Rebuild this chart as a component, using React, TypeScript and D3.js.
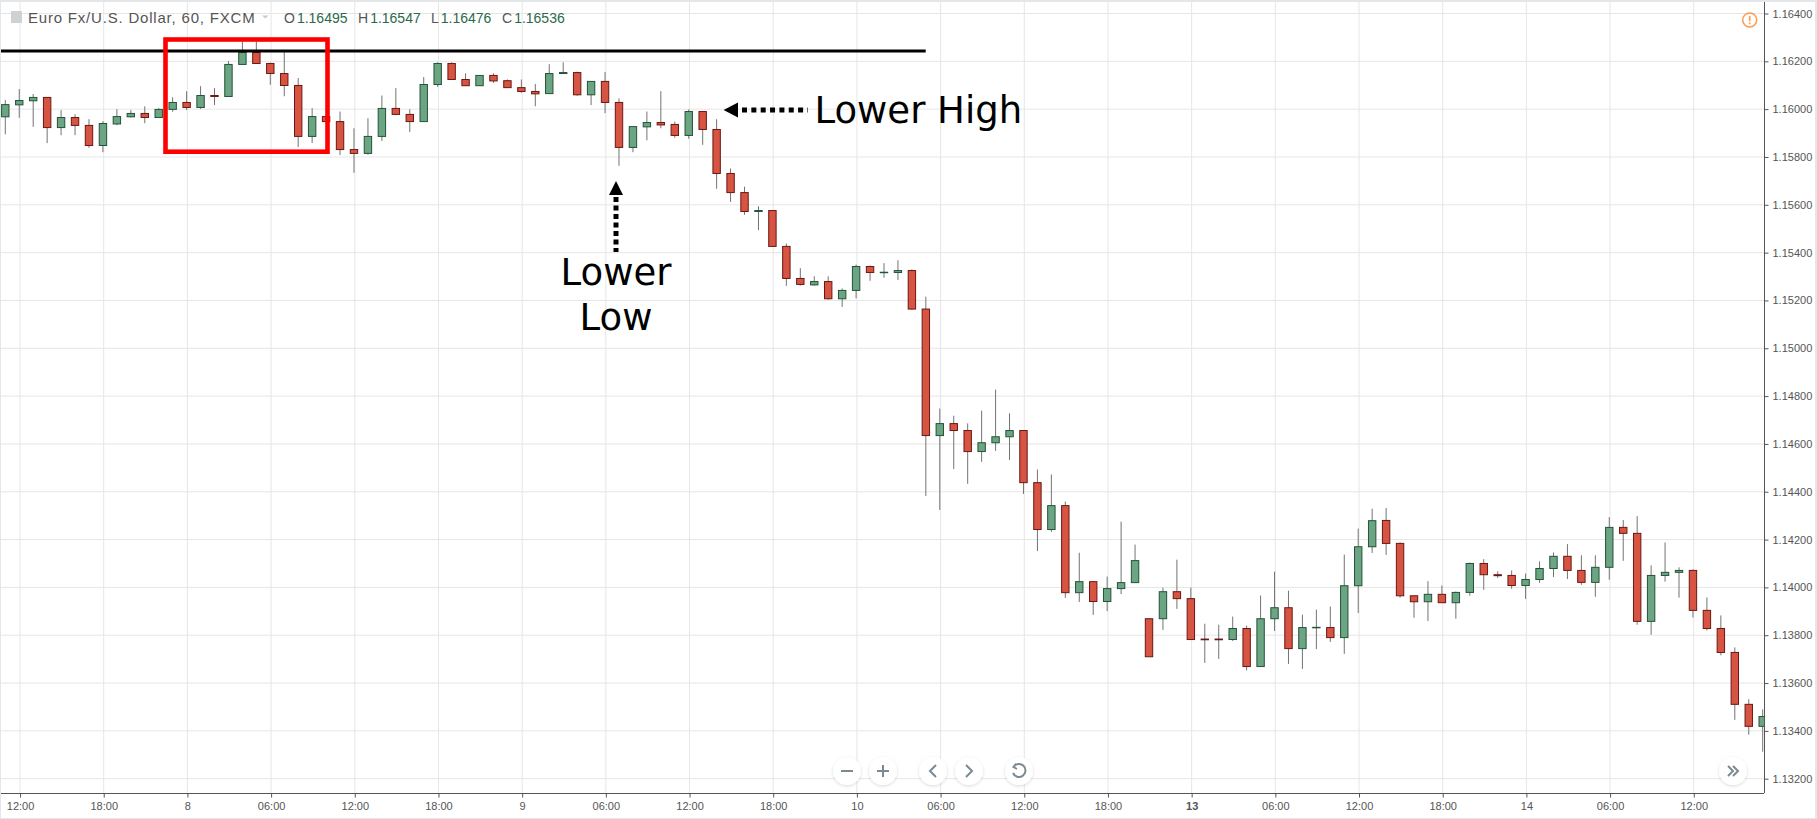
import * as d3 from "d3";
import { useEffect, useRef } from "react";

const width = 1817;
const height = 819;

// hourly EUR/USD candles
const opens = [
  1.15968, 1.16018, 1.16035, 1.16049, 1.15923, 1.15965, 1.15932, 1.15848, 1.15938, 1.15968,
  1.15982, 1.15965, 1.15999, 1.16028, 1.16007, 1.16057, 1.16053, 1.16187, 1.16237, 1.16191,
  1.16149, 1.16099, 1.15886, 1.15969, 1.15948, 1.15831, 1.15815, 1.15886, 1.16003, 1.15978,
  1.15948, 1.16103, 1.16191, 1.16124, 1.16098, 1.16141, 1.16119, 1.1609, 1.16074, 1.16065,
  1.16149, 1.16153, 1.1606, 1.16116, 1.16028, 1.1584, 1.15926, 1.15944, 1.15936, 1.1589,
  1.1599, 1.15915, 1.15731, 1.15651, 1.15572, 1.15576, 1.15426, 1.15292, 1.15265, 1.15279,
  1.15207, 1.15242, 1.15342, 1.15316, 1.15317, 1.15325, 1.15164, 1.14635, 1.14685, 1.14656,
  1.14568, 1.14605, 1.1463, 1.14656, 1.14438, 1.14242, 1.14342, 1.13978, 1.14024, 1.13941,
  1.13995, 1.1402, 1.13869, 1.13869, 1.13982, 1.13953, 1.13784, 1.13784, 1.13782, 1.13828,
  1.13669, 1.13869, 1.13915, 1.13744, 1.13831, 1.13832, 1.1379, 1.14007, 1.1417, 1.1428,
  1.14184, 1.13965, 1.1394, 1.13971, 1.13936, 1.13979, 1.141, 1.14053, 1.1405, 1.14008,
  1.14033, 1.14079, 1.1413, 1.14071, 1.14021, 1.14084, 1.14251, 1.14226, 1.13858, 1.1405,
  1.14063, 1.14071, 1.13904, 1.13828, 1.13728, 1.13511, 1.13419,
];
const highs = [
  1.16038, 1.16084, 1.16063, 1.16049, 1.15996, 1.15979, 1.15958, 1.1595, 1.16, 1.15996,
  1.16012, 1.16004, 1.1605, 1.16075, 1.16096, 1.16088, 1.16201, 1.16282, 1.16282, 1.16195,
  1.16247, 1.1613, 1.16004, 1.15969, 1.1599, 1.1592, 1.15962, 1.16057, 1.16088, 1.16,
  1.16134, 1.16196, 1.16196, 1.1615, 1.16141, 1.1615, 1.16124, 1.16124, 1.16105, 1.16188,
  1.16196, 1.16157, 1.16116, 1.16155, 1.16045, 1.15927, 1.1599, 1.16075, 1.15948, 1.15999,
  1.1599, 1.15958, 1.15752, 1.15676, 1.15594, 1.15576, 1.15438, 1.15335, 1.15301, 1.15301,
  1.1525, 1.1535, 1.15346, 1.15356, 1.15368, 1.1533, 1.15216, 1.14748, 1.14718, 1.14686,
  1.14739, 1.14827, 1.14728, 1.14656, 1.14493, 1.14472, 1.14359, 1.14145, 1.14024, 1.14045,
  1.14275, 1.14179, 1.13869, 1.13999, 1.14116, 1.13999, 1.13848, 1.13844, 1.13878, 1.1384,
  1.13966, 1.14066, 1.13986, 1.13886, 1.13907, 1.1392, 1.14137, 1.14246, 1.14329, 1.14332,
  1.14188, 1.13965, 1.14026, 1.14008, 1.13983, 1.14104, 1.14118, 1.14067, 1.14071, 1.14058,
  1.14109, 1.14146, 1.14181, 1.14134, 1.14134, 1.14294, 1.14282, 1.14298, 1.14092, 1.14188,
  1.14084, 1.14075, 1.13958, 1.13883, 1.13749, 1.13532, 1.1349,
];
const lows = [
  1.15895, 1.15964, 1.15926, 1.15858, 1.15891, 1.15891, 1.15838, 1.1582, 1.15933, 1.15965,
  1.15941, 1.15965, 1.15989, 1.15996, 1.16001, 1.16017, 1.16053, 1.16187, 1.16191, 1.16102,
  1.16054, 1.15842, 1.15858, 1.15948, 1.15808, 1.15734, 1.15809, 1.15867, 1.15975, 1.15904,
  1.15948, 1.16093, 1.16124, 1.16098, 1.16098, 1.1611, 1.1609, 1.16068, 1.16012, 1.16065,
  1.16149, 1.16056, 1.16017, 1.15983, 1.15763, 1.1582, 1.1587, 1.1592, 1.1588, 1.15876,
  1.15851, 1.15667, 1.15612, 1.15558, 1.15494, 1.15426, 1.15261, 1.15262, 1.15262, 1.15203,
  1.15173, 1.15209, 1.15282, 1.15295, 1.15286, 1.1516, 1.14382, 1.14324, 1.14495, 1.14433,
  1.14525, 1.14571, 1.14533, 1.14391, 1.14152, 1.14232, 1.13956, 1.13939, 1.13885, 1.13901,
  1.13972, 1.1402, 1.1371, 1.13822, 1.1391, 1.13782, 1.13684, 1.13701, 1.13776, 1.13653,
  1.13669, 1.13818, 1.1368, 1.13659, 1.13742, 1.13772, 1.13722, 1.13893, 1.14144, 1.14136,
  1.13957, 1.13873, 1.13859, 1.13936, 1.13869, 1.13965, 1.1399, 1.1404, 1.13994, 1.13952,
  1.14019, 1.14043, 1.14035, 1.14011, 1.13961, 1.14032, 1.14111, 1.13844, 1.13802, 1.14024,
  1.13957, 1.13874, 1.1382, 1.13716, 1.13446, 1.13384, 1.13313,
];
const closes = [
  1.16019, 1.16036, 1.16049, 1.15923, 1.15965, 1.15932, 1.15848, 1.1594, 1.15969, 1.15982,
  1.15965, 1.15999, 1.16028, 1.16007, 1.16057, 1.16053, 1.16187, 1.16237, 1.16191, 1.16149,
  1.16099, 1.15886, 1.15969, 1.15948, 1.15831, 1.15815, 1.15886, 1.16003, 1.15978, 1.15948,
  1.16103, 1.16191, 1.16124, 1.16098, 1.16141, 1.16118, 1.1609, 1.16074, 1.16064, 1.16149,
  1.16153, 1.1606, 1.16116, 1.16028, 1.1584, 1.15927, 1.15944, 1.15934, 1.1589, 1.1599,
  1.15915, 1.15731, 1.15651, 1.15572, 1.15576, 1.15426, 1.15292, 1.15267, 1.15279, 1.15207,
  1.15242, 1.15342, 1.15317, 1.15318, 1.15325, 1.15164, 1.14635, 1.14685, 1.14656, 1.14568,
  1.14605, 1.1463, 1.14656, 1.14438, 1.14242, 1.14342, 1.13978, 1.14024, 1.13941, 1.13995,
  1.1402, 1.14112, 1.1371, 1.13982, 1.13953, 1.13782, 1.13781, 1.13781, 1.13828, 1.13669,
  1.13869, 1.13915, 1.13744, 1.13832, 1.13833, 1.1379, 1.14007, 1.1417, 1.14279, 1.14184,
  1.13965, 1.1394, 1.13971, 1.13936, 1.13979, 1.141, 1.14053, 1.14049, 1.14008, 1.14033,
  1.14079, 1.1413, 1.14071, 1.14021, 1.14084, 1.14251, 1.14226, 1.13858, 1.1405, 1.14063,
  1.14071, 1.13904, 1.13828, 1.13728, 1.13511, 1.13419, 1.1346,
];

const priceTicks = d3.range(0, 17).map((i) => +(1.132 + i * 0.002).toFixed(3));

const timeTickBars = [1, 7, 13, 19, 25, 31, 37, 43, 49, 55, 61, 67, 73, 79, 85, 91, 97, 103, 109, 115, 121];
const timeTickLabels = [
  "12:00", "18:00", "8", "06:00", "12:00", "18:00", "9", "06:00", "12:00", "18:00",
  "10", "06:00", "12:00", "18:00", "13", "06:00", "12:00", "18:00", "14", "06:00", "12:00",
];

const resistance = 1.16243;
const ohlcLegend = [
  { key: "O", value: "1.16495", x: 284 },
  { key: "H", value: "1.16547", x: 358 },
  { key: "L", value: "1.16476", x: 431 },
  { key: "C", value: "1.16536", x: 502 },
];

const upFill = "#6ba583";
const upBorder = "#225437";
const downFill = "#d75442";
const downBorder = "#6b1713";
const wickColor = "#737375";
const gridColor = "#e6e6e6";
const axisColor = "#555";
const sans = "'Liberation Sans', Arial, sans-serif";

export default function App() {
  const svgRef = useRef<SVGSVGElement>(null);

  useEffect(() => {
    if (!svgRef.current) return;
    const svg = d3.select(svgRef.current);
    svg.selectAll("*").remove();

    const plotRight = 1764;
    const plotBottom = 793;

    const x = d3.scaleLinear().domain([0, opens.length - 1]).range([5.3, 1762.7]);
    const y = d3.scaleLinear().domain([1.132, 1.164]).range([778.7, 13.5]);
    const tickX = (bar: number) => x(bar) + 0.8;

    const bars = opens.map((open, i) => ({
      i,
      open,
      high: highs[i],
      low: lows[i],
      close: closes[i],
      up: closes[i] >= open,
    }));

    const defs = svg.append("defs");
    defs
      .append("clipPath")
      .attr("id", "plot")
      .append("rect")
      .attr("x", 0)
      .attr("y", 0)
      .attr("width", plotRight)
      .attr("height", plotBottom);
    const shadow = defs
      .append("filter")
      .attr("id", "btn")
      .attr("x", "-40%")
      .attr("y", "-40%")
      .attr("width", "180%")
      .attr("height", "180%");
    shadow
      .append("feDropShadow")
      .attr("dx", 0)
      .attr("dy", 1)
      .attr("stdDeviation", 1.6)
      .attr("flood-color", "#000")
      .attr("flood-opacity", 0.16);

    // page frame
    svg.append("rect").attr("width", width).attr("height", height).attr("fill", "#e3e7ea");
    svg
      .append("rect")
      .attr("x", 1)
      .attr("y", 2)
      .attr("width", 1814)
      .attr("height", 816)
      .attr("fill", "#fff");

    // Grid
    const grid = svg.append("g").attr("stroke", gridColor).attr("stroke-width", 1);
    grid
      .selectAll("line.h")
      .data(priceTicks)
      .join("line")
      .attr("x1", 1)
      .attr("x2", plotRight)
      .attr("y1", (d) => y(d))
      .attr("y2", (d) => y(d));
    grid
      .selectAll("line.v")
      .data(timeTickBars)
      .join("line")
      .attr("x1", (d) => tickX(d))
      .attr("x2", (d) => tickX(d))
      .attr("y1", 2)
      .attr("y2", plotBottom);

    // Candles
    const candles = svg.append("g").attr("clip-path", "url(#plot)");
    candles
      .selectAll("line")
      .data(bars)
      .join("line")
      .attr("x1", (d) => x(d.i))
      .attr("x2", (d) => x(d.i))
      .attr("y1", (d) => y(d.high))
      .attr("y2", (d) => y(d.low))
      .attr("stroke", wickColor)
      .attr("stroke-width", 1);
    candles
      .selectAll("rect")
      .data(bars)
      .join("rect")
      .attr("x", (d) => x(d.i) - 3.7)
      .attr("width", 7.4)
      .attr("y", (d) => y(Math.max(d.open, d.close)))
      .attr("height", (d) => Math.abs(y(d.open) - y(d.close)))
      .attr("fill", (d) => (d.up ? upFill : downFill))
      .attr("stroke", (d) => (d.up ? upBorder : downBorder))
      .attr("stroke-width", 1);

    // Axes
    const yAxis = svg
      .append("g")
      .attr("transform", `translate(${plotRight + 0.5},0)`)
      .call(
        d3
          .axisRight(y)
          .tickValues(priceTicks)
          .tickSize(4)
          .tickPadding(4)
          .tickFormat((d) => (d as number).toFixed(5)),
      );
    yAxis.select(".domain").attr("d", `M0,2V${plotBottom}`);

    const xAxis = svg
      .append("g")
      .attr("transform", `translate(0,${plotBottom + 0.5})`)
      .call(
        d3
          .axisBottom(d3.scaleLinear().domain([0, width]).range([0, width]))
          .tickValues(timeTickBars.map(tickX))
          .tickSize(4)
          .tickPadding(5)
          .tickFormat((_, i) => timeTickLabels[i]),
      );
    xAxis.select(".domain").attr("d", `M1,0H${plotRight}`);

    for (const axis of [yAxis, xAxis]) {
      axis.attr("font-family", sans).attr("font-size", 11);
      axis.selectAll(".domain, .tick line").attr("stroke", axisColor).attr("stroke-width", 1);
      axis.selectAll("text").attr("fill", axisColor);
    }
    xAxis
      .selectAll<SVGTextElement, number>("text")
      .attr("font-weight", (_, i) => (timeTickLabels[i] === "13" ? "bold" : "normal"));

    // Legend line
    svg
      .append("rect")
      .attr("x", 11)
      .attr("y", 11)
      .attr("width", 11)
      .attr("height", 12)
      .attr("fill", "#cfd2d4");
    svg
      .append("text")
      .attr("x", 28)
      .attr("y", 22.5)
      .attr("font-family", sans)
      .attr("font-size", 15)
      .attr("letter-spacing", 0.8)
      .attr("fill", "#555")
      .text("Euro Fx/U.S. Dollar, 60, FXCM");
    svg.append("path").attr("d", "M262,15.5h6.5l-3.25,3z").attr("fill", "#c9c9c9");
    ohlcLegend.forEach((item) => {
      const t = svg
        .append("text")
        .attr("x", item.x)
        .attr("y", 22.5)
        .attr("font-family", sans)
        .attr("font-size", 14);
      t.append("tspan").attr("fill", "#555").text(item.key);
      t.append("tspan").attr("dx", 2).attr("fill", "#2a6a4a").text(item.value);
    });

    // Resistance line
    svg
      .append("line")
      .attr("x1", 1)
      .attr("x2", 925.7)
      .attr("y1", y(resistance))
      .attr("y2", y(resistance))
      .attr("stroke", "#000")
      .attr("stroke-width", 3);

    // Highlight box
    svg
      .append("rect")
      .attr("x", 165.5)
      .attr("y", 39.5)
      .attr("width", 162)
      .attr("height", 112.2)
      .attr("fill", "none")
      .attr("stroke", "#ff0000")
      .attr("stroke-width", 4.6);

    // Annotations
    const arrows = svg.append("g").attr("fill", "#000");
    arrows.append("path").attr("d", "M723.6,110L738,102.5V117.5Z");
    arrows
      .append("line")
      .attr("x1", 742)
      .attr("x2", 808)
      .attr("y1", 110)
      .attr("y2", 110)
      .attr("stroke", "#000")
      .attr("stroke-width", 5)
      .attr("stroke-dasharray", "5 4.35");
    arrows.append("path").attr("d", "M616,181L623,195H609Z");
    arrows
      .append("line")
      .attr("x1", 616)
      .attr("x2", 616)
      .attr("y1", 197)
      .attr("y2", 252)
      .attr("stroke", "#000")
      .attr("stroke-width", 5)
      .attr("stroke-dasharray", "5 3.5");

    const notes = [
      { text: "Lower High", x: 814.5, y: 122.7, anchor: "start" },
      { text: "Lower", x: 616, y: 285, anchor: "middle" },
      { text: "Low", x: 616, y: 330, anchor: "middle" },
    ];
    svg
      .append("g")
      .selectAll("text")
      .data(notes)
      .join("text")
      .attr("x", (d) => d.x)
      .attr("y", (d) => d.y)
      .attr("text-anchor", (d) => d.anchor)
      .attr("font-family", "'DejaVu Sans', sans-serif")
      .attr("font-size", 37)
      .attr("fill", "#000")
      .text((d) => d.text);

    // Chart buttons
    const icons = [
      { cx: 847, d: "M-6,0H6" },
      { cx: 883, d: "M-6,0H6M0,-6V6" },
      { cx: 933, d: "M3,-6L-3,0L3,6" },
      { cx: 969, d: "M-3,-6L3,0L-3,6" },
      { cx: 1019, d: "M-3,-7L-5.5,-4L-2,-2M-5.5,-4A6.5,6.5 0 1 1 -6,2" },
      { cx: 1733, d: "M-5,-5L0,0L-5,5M0,-5L5,0L0,5" },
    ];
    const buttons = svg
      .append("g")
      .selectAll("g")
      .data(icons)
      .join("g")
      .attr("transform", (d) => `translate(${d.cx},771)`);
    buttons.append("circle").attr("r", 14).attr("fill", "#fff").attr("filter", "url(#btn)");
    buttons
      .append("path")
      .attr("d", (d) => d.d)
      .attr("fill", "none")
      .attr("stroke", "#7b8a92")
      .attr("stroke-width", 2);

    // Data warning icon
    const warn = svg.append("g").attr("transform", "translate(1749.7,20)");
    warn.append("circle").attr("r", 7).attr("fill", "none").attr("stroke", "#ff9a4d").attr("stroke-width", 1.5);
    warn.append("path").attr("d", "M0,-4V1.2M0,2.6V4.2").attr("stroke", "#ff9a4d").attr("stroke-width", 1.6);
  }, []);

  return (
    <div style={{ position: "absolute", left: 0, top: 0 }}>
      <svg ref={svgRef} width={width} height={height} style={{ display: "block" }} />
    </div>
  );
}
